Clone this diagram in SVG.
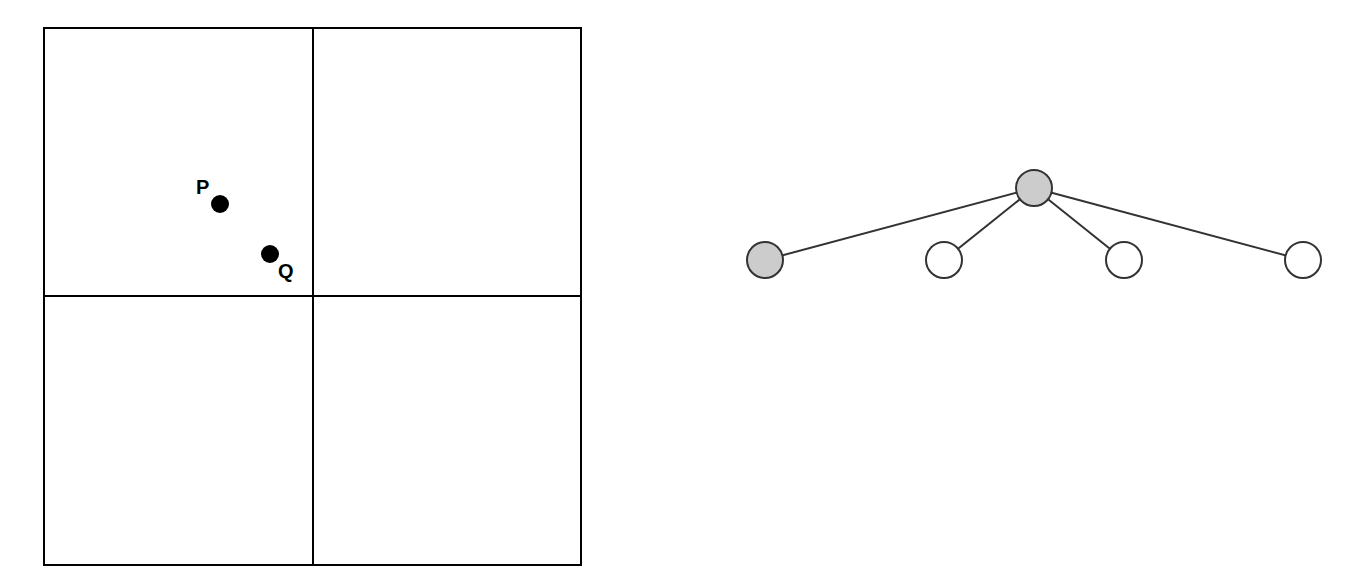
<svg xmlns="http://www.w3.org/2000/svg" width="1366" height="584" viewBox="0 0 1366 584">
<style>
.grid{fill:none;stroke:#000;stroke-width:2}
.dot{fill:#000}
.lbl{font-family:"Liberation Sans",Arial,sans-serif;font-weight:bold;font-size:20px;fill:#000}
.node{stroke:#333;stroke-width:2}
.gray{fill:#ccc}
.white{fill:#fff}
.edge{stroke:#333;stroke-width:2;fill:none}
</style>
<rect width="1366" height="584" fill="#fff"/>
<g id="grid">
<rect class="grid" x="44" y="28" width="537" height="537"/>
<line class="grid" x1="313" y1="28" x2="313" y2="565"/>
<line class="grid" x1="44" y1="296" x2="581" y2="296"/>
</g>
<g id="P"><circle class="dot" cx="220" cy="204" r="9"/><text class="lbl" x="196" y="194">P</text></g>
<g id="Q"><circle class="dot" cx="270" cy="254" r="9"/><text class="lbl" x="278" y="278">Q</text></g>
<g id="connectors">
<line class="edge" x1="1034" y1="188" x2="765" y2="260"/>
<line class="edge" x1="1034" y1="188" x2="944" y2="260"/>
<line class="edge" x1="1034" y1="188" x2="1124" y2="260"/>
<line class="edge" x1="1034" y1="188" x2="1303" y2="260"/>
</g>
<g id="root"><circle class="node gray" cx="1034" cy="188" r="18"/></g>
<g id="n1"><circle class="node gray" cx="765" cy="260" r="18"/></g>
<g id="n2"><circle class="node white" cx="944" cy="260" r="18"/></g>
<g id="n3"><circle class="node white" cx="1124" cy="260" r="18"/></g>
<g id="n4"><circle class="node white" cx="1303" cy="260" r="18"/></g>
</svg>
